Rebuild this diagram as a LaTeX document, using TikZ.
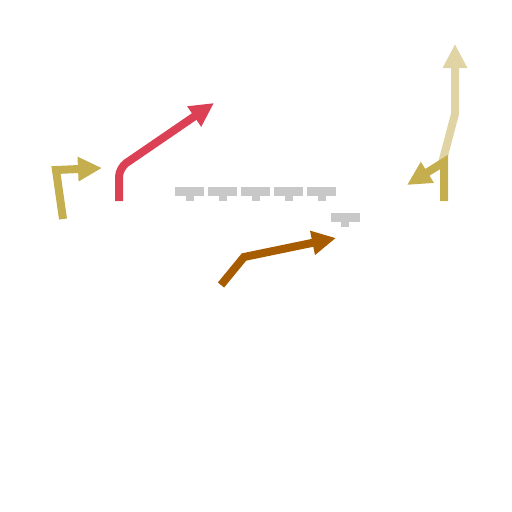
\documentclass[tikz,border=0pt]{standalone}
\usetikzlibrary{arrows.meta}
\definecolor{tan}{HTML}{E0D4A4}
\definecolor{gold}{HTML}{C4AE4E}
\definecolor{redr}{HTML}{DC4055}
\definecolor{brownr}{HTML}{A85C00}
\definecolor{linegray}{HTML}{C8C8C8}
\tikzset{
  route/.style={line width=8pt, line cap=butt, line join=miter, -{Triangle[length=24pt,width=23pt]}},
  lineman/.pic={
    \fill[linegray] (-14.5,-4.75) rectangle (14.5,4.75);
    \fill[linegray] (-4,4.5) rectangle (4,9.5);
  }
}
\begin{document}
\begin{tikzpicture}[x=1pt,y=-1pt]
\useasboundingbox (0,0) rectangle (512,512);
% linemen
\foreach \i/\x in {1/189.5,2/222.5,3/255.5,4/288.5,5/321.5}{
  \pic (ol\i) at (\x,191.5) {lineman};
}
\pic (te) at (345,217.5) {lineman};
% coordinates
\coordinate (r0) at (119,201);
\coordinate (r1) at (119,168);
\coordinate (r2) at (214,103);
\coordinate (g0) at (63,219);
\coordinate (g1) at (56,170);
\coordinate (g2) at (102,168);
\coordinate (b0) at (221,285);
\coordinate (b1) at (244,257);
\coordinate (b2) at (336,238);
\coordinate (t0) at (442,163);
\coordinate (t1) at (455,114);
\coordinate (t2) at (455,44);
\coordinate (d0) at (444,201);
\coordinate (d1) at (444,162);
\coordinate (d2) at (407,185);
% routes
\draw[route, redr, rounded corners=9pt] (r0) -- (r1) -- (r2);
\draw[route, gold] (g0) -- (g1) -- (g2);
\draw[route, brownr] (b0) -- (b1) -- (b2);
\draw[route, tan] (t0) -- (t1) -- (t2);
\draw[route, gold] (d0) -- (d1) -- (d2);
\end{tikzpicture}
\end{document}
